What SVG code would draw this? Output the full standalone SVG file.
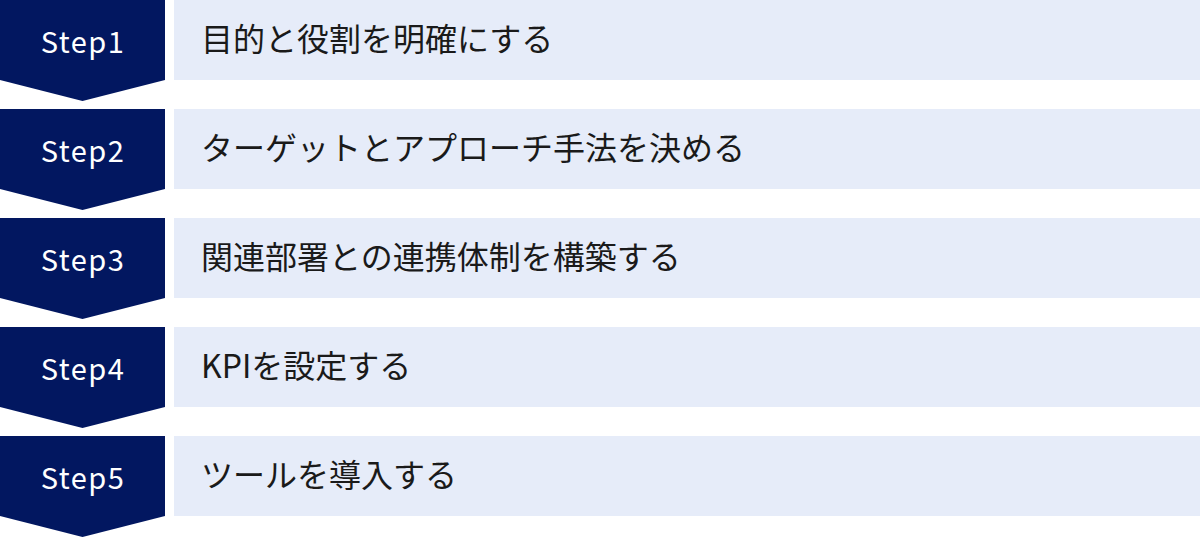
<svg xmlns="http://www.w3.org/2000/svg" width="1200" height="538" viewBox="0 0 1200 538">
<style>
.chev{fill:#021760}
.box{fill:#e6ecf9}
.step{font-family:"Noto Sans CJK JP","Noto Sans",sans-serif;font-size:29px;letter-spacing:1.5px;fill:#ffffff;text-anchor:middle}
.lbl{font-family:"Noto Sans CJK JP","Noto Sans",sans-serif;font-size:32px;fill:#1a1a1a}
</style>
<rect width="1200" height="538" fill="#ffffff"/>
<g id="step1">
<path class="chev" d="M0,0H165V80L82.5,101L0,80Z"/>
<rect class="box" x="174" y="0" width="1026" height="80"/>
<text class="step" x="83" y="53">Step1</text>
<text class="lbl" x="201" y="51">目的と役割を明確にする</text>
</g>
<g id="step2">
<path class="chev" d="M0,109H165V189L82.5,210L0,189Z"/>
<rect class="box" x="174" y="109" width="1026" height="80"/>
<text class="step" x="83" y="162">Step2</text>
<text class="lbl" x="201" y="160">ターゲットとアプローチ手法を決める</text>
</g>
<g id="step3">
<path class="chev" d="M0,218H165V298L82.5,319L0,298Z"/>
<rect class="box" x="174" y="218" width="1026" height="80"/>
<text class="step" x="83" y="271">Step3</text>
<text class="lbl" x="201" y="269">関連部署との連携体制を構築する</text>
</g>
<g id="step4">
<path class="chev" d="M0,327H165V407L82.5,428L0,407Z"/>
<rect class="box" x="174" y="327" width="1026" height="80"/>
<text class="step" x="83" y="380">Step4</text>
<text class="lbl" x="201" y="378">KPIを設定する</text>
</g>
<g id="step5">
<path class="chev" d="M0,436H165V516L82.5,537L0,516Z"/>
<rect class="box" x="174" y="436" width="1026" height="80"/>
<text class="step" x="83" y="489">Step5</text>
<text class="lbl" x="201" y="487">ツールを導入する</text>
</g>
<g id="connectors"></g>
</svg>
